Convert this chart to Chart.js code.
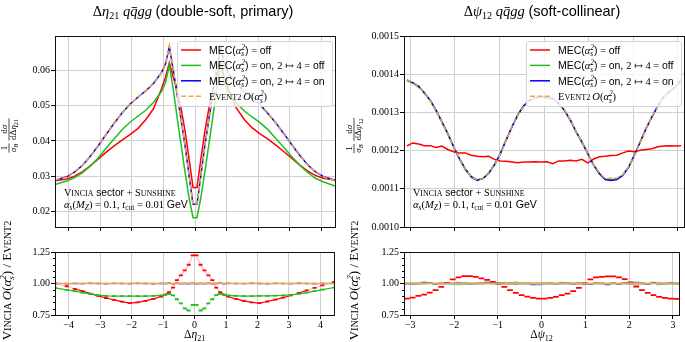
<!DOCTYPE html>
<html>
<head>
<meta charset="utf-8">
<script src="https://cdn.jsdelivr.net/npm/chart.js@4.4.0/dist/chart.umd.min.js"></script>
<style>
  html, body { margin: 0; padding: 0; background: #fff; }
  #wrap { position: relative; width: 685px; height: 342px; overflow: hidden; }
  canvas { position: absolute; }
</style>
</head>
<body>
<div id="wrap">
  <canvas id="etaTop" width="340" height="240" style="left:0;top:0"></canvas>
  <canvas id="etaRatio" width="340" height="142" style="left:0;top:200px"></canvas>
  <canvas id="psiTop" width="345" height="240" style="left:340px;top:0"></canvas>
  <canvas id="psiRatio" width="345" height="142" style="left:340px;top:200px"></canvas>
</div>
<script>
// ---- Δη21 panel (bin centres, width 0.125) ----
const etaBins = [-4.4375, -4.0625, -3.8125, -3.5625, -3.3125, -3.0625, -2.8125, -2.5625, -2.3125, -2.0625, -1.8125,
  -1.5625, -1.3125, -1.0625, -0.9375, -0.8125, -0.6875, -0.5625, -0.4375, -0.3125, -0.1875, -0.0625,
  0.0625, 0.1875, 0.3125, 0.4375, 0.5625, 0.6875, 0.8125, 0.9375, 1.0625, 1.3125, 1.5625, 1.8125,
  2.0625, 2.3125, 2.5625, 2.8125, 3.0625, 3.3125, 3.5625, 3.8125, 4.0625, 4.4375];
const etaMecOff = [0.0287, 0.0292, 0.0300, 0.0313, 0.0330, 0.0349, 0.0368, 0.0386, 0.0402, 0.0418, 0.0435,
  0.0460, 0.0492, 0.0548, 0.0580, 0.0622, 0.0580, 0.0545, 0.0490, 0.0427, 0.0348, 0.0268,
  0.0268, 0.0349, 0.0428, 0.0491, 0.0546, 0.0582, 0.0623, 0.0579, 0.0547, 0.0493, 0.0461, 0.0437,
  0.0420, 0.0405, 0.0388, 0.0370, 0.0351, 0.0332, 0.0315, 0.0302, 0.0294, 0.0289];
const etaMecOn24Off = [0.0276, 0.0286, 0.0296, 0.0310, 0.0329, 0.0352, 0.0380, 0.0406, 0.0432, 0.0453, 0.0470,
  0.0487, 0.0510, 0.0540, 0.0565, 0.0615, 0.0546, 0.0464, 0.0387, 0.0310, 0.0238, 0.0182,
  0.0182, 0.0240, 0.0312, 0.0389, 0.0466, 0.0549, 0.0616, 0.0563, 0.0537, 0.0508, 0.0485, 0.0468,
  0.0452, 0.0432, 0.0407, 0.0382, 0.0356, 0.0332, 0.0311, 0.0294, 0.0284, 0.0272];
const etaMecOn24On = [0.0288, 0.0298, 0.0312, 0.0331, 0.0357, 0.0387, 0.0419, 0.0450, 0.0479, 0.0504, 0.0524,
  0.0542, 0.0564, 0.0594, 0.0618, 0.0668, 0.0600, 0.0530, 0.0458, 0.0385, 0.0302, 0.0220,
  0.0220, 0.0303, 0.0387, 0.0460, 0.0531, 0.0602, 0.0668, 0.0617, 0.0592, 0.0563, 0.0541, 0.0522,
  0.0503, 0.0478, 0.0451, 0.0421, 0.0390, 0.0360, 0.0333, 0.0313, 0.0299, 0.0288];
const etaEvent2 = [0.0289, 0.0297, 0.0313, 0.0332, 0.0357, 0.0388, 0.0419, 0.0451, 0.0479, 0.0505, 0.0524,
  0.0543, 0.0565, 0.0593, 0.0619, 0.0670, 0.0601, 0.0529, 0.0459, 0.0386, 0.0303, 0.0219,
  0.0221, 0.0302, 0.0386, 0.0461, 0.0530, 0.0601, 0.0669, 0.0618, 0.0593, 0.0564, 0.0542, 0.0523,
  0.0504, 0.0479, 0.0450, 0.0420, 0.0389, 0.0359, 0.0332, 0.0314, 0.0298, 0.0287];
const etaRatioMecOff = [1.000, 0.978, 0.958, 0.940, 0.920, 0.902, 0.885, 0.870, 0.856, 0.845, 0.850,
  0.862, 0.878, 0.897, 0.912, 0.931, 0.968, 1.027, 1.064, 1.104, 1.149, 1.223,
  1.223, 1.149, 1.104, 1.064, 1.027, 0.968, 0.931, 0.912, 0.897, 0.878, 0.862, 0.850,
  0.845, 0.857, 0.872, 0.888, 0.905, 0.925, 0.945, 0.965, 0.985, 1.012];
const etaRatioMecOn24Off = [0.965, 0.950, 0.940, 0.928, 0.918, 0.908, 0.902, 0.900, 0.900, 0.900, 0.900,
  0.900, 0.902, 0.905, 0.910, 0.918, 0.905, 0.875, 0.843, 0.803, 0.785, 0.830,
  0.830, 0.785, 0.803, 0.843, 0.875, 0.908, 0.918, 0.910, 0.905, 0.902, 0.900, 0.900,
  0.901, 0.902, 0.903, 0.905, 0.910, 0.918, 0.928, 0.940, 0.952, 0.968];
const etaRatioMecOn24On = [1.002, 0.998, 1.001, 0.999, 1.002, 1.000, 0.998, 1.001, 1.000, 0.999, 1.002,
  1.000, 0.998, 1.001, 0.999, 1.003, 0.997, 1.002, 0.999, 1.001, 0.998, 1.002,
  0.998, 1.001, 0.999, 1.002, 0.998, 1.000, 1.003, 0.998, 1.001, 1.000, 0.999, 1.002,
  1.000, 0.998, 1.001, 1.000, 0.999, 1.002, 1.000, 0.998, 1.001, 1.002];
const etaEdges = [-4.4375, 4.4375];
const etaRatioEvent2 = [1.0, 1.0];

// ---- Δψ12 panel (48 bins over [-π, π]) ----
const psiBins = [-3.076, -2.945, -2.814, -2.683, -2.553, -2.422, -2.291, -2.160, -2.029, -1.898, -1.767, -1.636,
  -1.505, -1.374, -1.243, -1.113, -0.982, -0.851, -0.720, -0.589, -0.458, -0.327, -0.196, -0.065,
  0.065, 0.196, 0.327, 0.458, 0.589, 0.720, 0.851, 0.982, 1.113, 1.243, 1.374, 1.505,
  1.636, 1.767, 1.898, 2.029, 2.160, 2.291, 2.422, 2.553, 2.683, 2.814, 2.945, 3.076];
const psiMecOff = [0.001212, 0.001220, 0.001217, 0.001213, 0.001213, 0.001208, 0.001212, 0.001203, 0.001197, 0.001194, 0.001194, 0.001188,
  0.001185, 0.001184, 0.001185, 0.001177, 0.001173, 0.001172, 0.001170, 0.001168, 0.001170, 0.001170, 0.001171, 0.001170,
  0.001171, 0.001166, 0.001173, 0.001173, 0.001175, 0.001173, 0.001177, 0.001168, 0.001178, 0.001184, 0.001185, 0.001187,
  0.001188, 0.001194, 0.001199, 0.001197, 0.001201, 0.001203, 0.001205, 0.001210, 0.001212, 0.001213, 0.001212, 0.001213];
const psiMecOn24Off = [0.001383, 0.001377, 0.001366, 0.001352, 0.001330, 0.001304, 0.001276, 0.001243, 0.001211, 0.001178, 0.001150, 0.001133,
  0.001124, 0.001126, 0.001141, 0.001163, 0.001190, 0.001228, 0.001261, 0.001294, 0.001318, 0.001331, 0.001339, 0.001340,
  0.001338, 0.001335, 0.001324, 0.001305, 0.001281, 0.001250, 0.001221, 0.001193, 0.001163, 0.001139, 0.001125, 0.001124,
  0.001126, 0.001136, 0.001156, 0.001189, 0.001222, 0.001257, 0.001289, 0.001318, 0.001340, 0.001355, 0.001366, 0.001384];
const psiMecOn24On = [0.001385, 0.001378, 0.001369, 0.001350, 0.001332, 0.001306, 0.001275, 0.001245, 0.001210, 0.001179, 0.001153, 0.001131,
  0.001122, 0.001127, 0.001140, 0.001162, 0.001192, 0.001227, 0.001262, 0.001293, 0.001316, 0.001332, 0.001338, 0.001341,
  0.001339, 0.001336, 0.001323, 0.001306, 0.001280, 0.001249, 0.001223, 0.001192, 0.001162, 0.001140, 0.001124, 0.001122,
  0.001124, 0.001135, 0.001157, 0.001188, 0.001223, 0.001258, 0.001288, 0.001316, 0.001341, 0.001354, 0.001365, 0.001385];
const psiEvent2 = [0.001384, 0.001379, 0.001368, 0.001351, 0.001331, 0.001305, 0.001274, 0.001244, 0.001211, 0.001180, 0.001152, 0.001131,
  0.001124, 0.001126, 0.001140, 0.001161, 0.001191, 0.001226, 0.001263, 0.001292, 0.001315, 0.001331, 0.001338, 0.001340,
  0.001340, 0.001335, 0.001322, 0.001307, 0.001281, 0.001250, 0.001222, 0.001193, 0.001163, 0.001142, 0.001127, 0.001128,
  0.001128, 0.001137, 0.001158, 0.001187, 0.001222, 0.001257, 0.001289, 0.001315, 0.001340, 0.001354, 0.001366, 0.001384];
const psiRatioMecOff = [0.880, 0.888, 0.902, 0.912, 0.928, 0.947, 0.973, 1.005, 1.032, 1.048, 1.058, 1.058,
  1.053, 1.040, 1.029, 1.013, 1.000, 0.973, 0.947, 0.926, 0.907, 0.896, 0.886, 0.880,
  0.880, 0.886, 0.894, 0.907, 0.920, 0.939, 0.965, 1.000, 1.032, 1.048, 1.053, 1.056,
  1.056, 1.048, 1.035, 1.008, 0.976, 0.947, 0.926, 0.907, 0.894, 0.886, 0.880, 0.878];
const psiRatioMecOn24Off = [0.998, 1.003, 0.997, 1.000, 1.004, 0.996, 1.002, 0.998, 1.003, 0.994, 0.998, 1.003,
  1.000, 0.997, 1.002, 1.000, 1.004, 0.998, 1.002, 1.008, 0.997, 1.002, 1.000, 0.992,
  1.003, 0.998, 1.000, 1.006, 0.997, 1.002, 0.999, 1.004, 0.996, 1.000, 1.003, 0.998,
  1.002, 0.996, 1.000, 1.004, 0.997, 1.002, 0.999, 1.003, 0.993, 1.002, 0.998, 1.000];
const psiRatioMecOn24On = [1.000, 0.996, 1.002, 1.008, 1.003, 0.998, 1.000, 1.004, 0.997, 1.006, 1.002, 0.995,
  0.999, 1.004, 1.008, 1.003, 0.998, 1.002, 1.000, 0.996, 1.003, 0.999, 0.992, 1.001,
  0.998, 1.003, 0.997, 1.000, 1.004, 0.996, 1.002, 1.000, 0.997, 1.003, 0.999, 0.992,
  1.002, 0.998, 1.004, 0.997, 1.008, 1.000, 0.996, 1.006, 1.002, 0.997, 1.004, 1.000];
const psiEdges = [-Math.PI, Math.PI];
const psiRatioEvent2 = [1.0, 1.0];

// ---- ticks ----
const etaTicks = [-4, -3, -2, -1, 0, 1, 2, 3, 4];
const psiTicks = [-3, -2, -1, 0, 1, 2, 3];
const etaYTicks = [0.02, 0.03, 0.04, 0.05, 0.06];
const psiYTicks = [0.0010, 0.0011, 0.0012, 0.0013, 0.0014, 0.0015];
const ratioYTicks = [0.75, 1.00, 1.25];
const ratioMinorTicks = [0.80, 0.85, 0.90, 0.95, 1.05, 1.10, 1.15, 1.20];

const RED = '#ff0000', GREEN = '#1fbf1f', BLUE = '#0000ff', ORANGE = '#f5a53f', GRID = '#cfcfcf';
const SERIF = '"Liberation Serif", "DejaVu Serif", serif';
const SANS = '"Liberation Sans", "DejaVu Sans", sans-serif';

Chart.defaults.font.family = SERIF;
Chart.defaults.font.size = 10;
Chart.defaults.color = '#000';

// ---- small rich-text helper (sub/superscripts, small caps) ----
function fontFor(kind, size) {
  if (kind === 'it') return `italic ${size}px ${SERIF}`;
  if (kind === 'rm') return `${size}px ${SERIF}`;
  return `${size}px ${SANS}`;
}
function richWidth(ctx, runs, size) {
  let w = 0;
  for (const r of runs) {
    ctx.font = fontFor(r.f, size * (r.k || 1));
    w += ctx.measureText(r.t || '').width;
    if (r.sub || r.sup) {
      ctx.font = fontFor(r.sf || 'rm', size * 0.7);
      w += Math.max(r.sub ? ctx.measureText(r.sub).width : 0, r.sup ? ctx.measureText(r.sup).width : 0);
    }
  }
  return w;
}
function drawRich(ctx, x, y, runs, size, align) {
  let cx = align === 'center' ? x - richWidth(ctx, runs, size) / 2 : x;
  ctx.textAlign = 'left';
  ctx.textBaseline = 'alphabetic';
  for (const r of runs) {
    const s = size * (r.k || 1);
    ctx.font = fontFor(r.f, s);
    const w = r.t ? ctx.measureText(r.t).width : 0;
    if (r.t) ctx.fillText(r.t, cx, y);
    if (r.bar) ctx.fillRect(cx + w * 0.2, y - s * 0.62, w * 0.75, 0.8);
    cx += w;
    if (r.sub || r.sup) {
      ctx.font = fontFor(r.sf || 'rm', size * 0.7);
      let ws = 0;
      if (r.sup) { ctx.fillText(r.sup, cx, y - size * 0.38); ws = ctx.measureText(r.sup).width; }
      if (r.sub) { ctx.fillText(r.sub, cx, y + size * 0.22); ws = Math.max(ws, ctx.measureText(r.sub).width); }
      cx += ws;
    }
  }
}
function drawFrac(ctx, x, y, num, den, size) {
  const wn = richWidth(ctx, num, size), wd = richWidth(ctx, den, size);
  const w = Math.max(wn, wd) + 1;
  drawRich(ctx, x + (w - wn) / 2, y - size * 0.25, num, size);
  drawRich(ctx, x + (w - wd) / 2, y + size * 0.8, den, size);
  ctx.fillRect(x, y - 0.35, w, 0.7);
  return w;
}

// ---- text pieces ----
const alphaSq = { t: 'α', f: 'it', sup: '2', sub: 's', sf: 'it' };
const MEC = [{ t: 'MEC(', f: 'sf' }, alphaSq, { t: ')', f: 'sf' }, { t: ' = ', f: 'rm' }];
const legendRuns = [
  [...MEC, { t: 'off', f: 'sf' }],
  [...MEC, { t: 'on, ', f: 'sf' }, { t: '2 ↦ 4 = ', f: 'rm' }, { t: 'off', f: 'sf' }],
  [...MEC, { t: 'on, ', f: 'sf' }, { t: '2 ↦ 4 = ', f: 'rm' }, { t: 'on', f: 'sf' }],
  [{ t: 'E', f: 'rm' }, { t: 'VENT2 ', f: 'rm', k: 0.78 }, { t: 'O', f: 'it' }, { t: '(', f: 'rm' }, alphaSq, { t: ')', f: 'rm' }]
];
const noteLine1 = [{ t: 'V', f: 'rm' }, { t: 'INCIA', f: 'rm', k: 0.78 }, { t: ' sector ', f: 'sf' }, { t: '+ ', f: 'rm' },
  { t: 'S', f: 'rm' }, { t: 'UNSHINE', f: 'rm', k: 0.78 }];
const noteLine2 = [{ t: 'α', f: 'it', sub: 's', sf: 'it' }, { t: '(', f: 'rm' }, { t: 'M', f: 'it', sub: 'Z', sf: 'it' },
  { t: ') = 0.1, ', f: 'rm' }, { t: 't', f: 'it', sub: 'cut', sf: 'rm' }, { t: ' = 0.01 ', f: 'rm' }, { t: 'GeV', f: 'sf' }];
const qqgg = [{ t: ' q', f: 'it' }, { t: 'q', f: 'it', bar: true }, { t: 'gg ', f: 'it' }];
const etaTitle = [{ t: 'Δ', f: 'rm' }, { t: 'η', f: 'it', sub: '21', sf: 'rm' }, ...qqgg, { t: '(double-soft, primary)', f: 'sf' }];
const psiTitle = [{ t: 'Δ', f: 'rm' }, { t: 'ψ', f: 'it', sub: '12', sf: 'rm' }, ...qqgg, { t: '(soft-collinear)', f: 'sf' }];
const etaXLabel = [{ t: 'Δ', f: 'rm' }, { t: 'η', f: 'it', sub: '21', sf: 'rm' }];
const psiXLabel = [{ t: 'Δ', f: 'rm' }, { t: 'ψ', f: 'it', sub: '12', sf: 'rm' }];
const ratioYLabel = [{ t: 'V', f: 'rm' }, { t: 'INCIA ', f: 'rm', k: 0.78 }, { t: 'O', f: 'it' }, { t: '(', f: 'rm' }, alphaSq,
  { t: ') / ', f: 'rm' }, { t: 'E', f: 'rm' }, { t: 'VENT2', f: 'rm', k: 0.78 }];
const one = [{ t: '1', f: 'rm' }];
const sigmaB = [{ t: 'σ', f: 'it', sub: 'B', sf: 'it' }];
const dSigma = [{ t: 'd', f: 'rm' }, { t: 'σ', f: 'it' }];
const etaDen = [{ t: 'dΔ', f: 'rm' }, { t: 'η', f: 'it', sub: '21', sf: 'rm' }];
const psiDen = [{ t: 'dΔ', f: 'rm' }, { t: 'ψ', f: 'it', sub: '12', sf: 'rm' }];

const pts = (xs, ys) => xs.map((x, i) => ({ x, y: ys[i] }));
const minus = v => String(v).replace('-', '\u2212');

function curve(label, xs, ys, color, order, dash) {
  return { label, data: pts(xs, ys), borderColor: color, backgroundColor: color, borderWidth: 1.5,
    pointRadius: 0, borderDash: dash || [], order, tension: 0 };
}
function ratioMarks(label, xs, ys, color, faint, order, half, connect) {
  return { label, data: pts(xs, ys), borderColor: color, backgroundColor: color, borderWidth: 1.2,
    showLine: connect, pointStyle: 'line', pointRadius: half, pointBorderColor: color, pointBorderWidth: 1.8,
    order, tension: 0,
    segment: { borderColor: c => Math.abs(c.p1.parsed.y - c.p0.parsed.y) > 0.02 ? faint : undefined } };
}

function xAxis(min, max, ticks, labels, height) {
  return {
    type: 'linear', min, max,
    afterBuildTicks: s => { s.ticks = ticks.map(v => ({ value: v })); },
    afterFit: s => { s.height = height; },
    grid: { color: GRID, lineWidth: 1, tickLength: 4, tickColor: '#000' },
    border: { display: false },
    ticks: { display: labels, padding: 0, maxRotation: 0, autoSkip: false, callback: v => minus(v) }
  };
}
function yAxis(min, max, ticks, digits, width) {
  return {
    min, max,
    afterBuildTicks: s => { s.ticks = ticks.map(v => ({ value: v })); },
    afterFit: s => { s.width = width; },
    grid: { color: GRID, lineWidth: 1, tickLength: 4, tickColor: '#000' },
    border: { display: false },
    ticks: { padding: 1, autoSkip: false, callback: v => v.toFixed(digits) }
  };
}

function frame(ctx, a) {
  ctx.strokeStyle = '#111';
  ctx.lineWidth = 1;
  ctx.setLineDash([]);
  ctx.strokeRect(Math.round(a.left) + 0.5, Math.round(a.top) + 0.5,
    Math.round(a.right - a.left), Math.round(a.bottom - a.top));
}

function drawLegend(ctx, chart, x, y) {
  ctx.save();
  ctx.beginPath();
  ctx.roundRect(x + 0.5, y + 0.5, 155, 65, 2.5);
  ctx.fillStyle = 'rgba(255,255,255,0.8)';
  ctx.fill();
  ctx.strokeStyle = '#d4d4d4';
  ctx.lineWidth = 1;
  ctx.stroke();
  chart.data.datasets.forEach((ds, i) => {
    const ly = y + 9 + i * 15.4;
    ctx.strokeStyle = ds.borderColor;
    ctx.lineWidth = 1.5;
    ctx.setLineDash(ds.borderDash || []);
    ctx.beginPath();
    ctx.moveTo(x + 4, ly);
    ctx.lineTo(x + 24, ly);
    ctx.stroke();
    ctx.setLineDash([]);
    ctx.fillStyle = '#000';
    drawRich(ctx, x + 32, ly + 4, legendRuns[i], 10.5);
  });
  ctx.restore();
}

function topDecor(title, den, yLabelX) {
  return {
    id: 'topDecor',
    afterDraw(chart) {
      const { ctx, chartArea: a } = chart;
      ctx.save();
      ctx.fillStyle = '#000';
      drawRich(ctx, (a.left + a.right) / 2 - 2, 16, title, 14.5, 'center');
      frame(ctx, a);
      drawLegend(ctx, chart, a.right - 158, a.top + 5);
      ctx.fillStyle = '#000';
      drawRich(ctx, a.left + 9, a.bottom - 31, noteLine1, 10.2);
      drawRich(ctx, a.left + 9, a.bottom - 19, noteLine2, 10.6);
      ctx.translate(yLabelX, (a.top + a.bottom) / 2 + 4);
      ctx.rotate(-Math.PI / 2);
      const size = 9;
      const w1 = Math.max(richWidth(ctx, one, size), richWidth(ctx, sigmaB, size)) + 1;
      const w2 = Math.max(richWidth(ctx, dSigma, size), richWidth(ctx, den, size)) + 1;
      const x0 = -(w1 + w2 + 3) / 2;
      drawFrac(ctx, x0, 0, one, sigmaB, size);
      drawFrac(ctx, x0 + w1 + 3, 0, dSigma, den, size);
      ctx.restore();
    }
  };
}

function ratioDecor(xLabel, yLabelX) {
  return {
    id: 'ratioDecor',
    afterDraw(chart) {
      const { ctx, chartArea: a } = chart;
      const y = chart.scales.y;
      ctx.save();
      frame(ctx, a);
      ctx.fillStyle = '#000';
      ratioMinorTicks.forEach(v => {
        const py = Math.round(y.getPixelForValue(v));
        ctx.fillRect(a.left - 2, py, 2, 1);
      });
      drawRich(ctx, (a.left + a.right) / 2, a.bottom + 23, xLabel, 11.5, 'center');
      ctx.translate(yLabelX, (a.top + a.bottom) / 2 - 3);
      ctx.rotate(-Math.PI / 2);
      drawRich(ctx, 0, 4, ratioYLabel, 13, 'center');
      ctx.restore();
    }
  };
}

const common = {
  responsive: false, animation: false, devicePixelRatio: 1, events: [],
  plugins: { legend: { display: false }, tooltip: { enabled: false }, title: { display: false } }
};

new Chart(document.getElementById('etaTop'), {
  type: 'line',
  data: { datasets: [
    curve('MEC off', etaBins, etaMecOff, RED, 3),
    curve('MEC on, 2→4 off', etaBins, etaMecOn24Off, GREEN, 2),
    curve('MEC on, 2→4 on', etaBins, etaMecOn24On, BLUE, 1),
    curve('EVENT2', etaBins, etaEvent2, ORANGE, 0, [5, 2.5])
  ] },
  options: { ...common,
    layout: { padding: { top: 36, right: 5, left: 0, bottom: 0 } },
    scales: { x: xAxis(-4.4375, 4.4375, etaTicks, false, 13), y: yAxis(0.01555, 0.0698, etaYTicks, 2, 55) } },
  plugins: [topDecor(etaTitle, etaDen, 9)]
});

new Chart(document.getElementById('etaRatio'), {
  type: 'line',
  data: { datasets: [
    ratioMarks('MEC off', etaBins, etaRatioMecOff, RED, 'rgba(255,0,0,0.25)', 3, 2, true),
    ratioMarks('MEC on, 2→4 off', etaBins, etaRatioMecOn24Off, GREEN, 'rgba(31,191,31,0.25)', 2, 2, true),
    ratioMarks('MEC on, 2→4 on', etaBins, etaRatioMecOn24On, 'rgba(60,60,255,0.6)', 'rgba(60,60,255,0.2)', 1, 2, true),
    { label: 'EVENT2', data: pts(etaEdges, etaRatioEvent2), borderColor: ORANGE, borderWidth: 1.5, pointRadius: 0, order: 0 }
  ] },
  options: { ...common,
    layout: { padding: { top: 52, right: 5, left: 0, bottom: 0 } },
    scales: { x: xAxis(-4.4375, 4.4375, etaTicks, true, 27), y: yAxis(0.75, 1.25, ratioYTicks, 2, 55) } },
  plugins: [ratioDecor(etaXLabel, 7)]
});

new Chart(document.getElementById('psiTop'), {
  type: 'line',
  data: { datasets: [
    curve('MEC off', psiBins, psiMecOff, RED, 3),
    curve('MEC on, 2→4 off', psiBins, psiMecOn24Off, GREEN, 2),
    curve('MEC on, 2→4 on', psiBins, psiMecOn24On, BLUE, 1),
    curve('EVENT2', psiBins, psiEvent2, ORANGE, 0, [5, 2.5])
  ] },
  options: { ...common,
    layout: { padding: { top: 36, right: 1, left: 0, bottom: 0 } },
    scales: { x: xAxis(-Math.PI, Math.PI, psiTicks, false, 13), y: yAxis(0.0010, 0.0015, psiYTicks, 4, 64) } },
  plugins: [topDecor(psiTitle, psiDen, 14)]
});

new Chart(document.getElementById('psiRatio'), {
  type: 'line',
  data: { datasets: [
    ratioMarks('MEC off', psiBins, psiRatioMecOff, RED, RED, 3, 2.9, false),
    ratioMarks('MEC on, 2→4 off', psiBins, psiRatioMecOn24Off, 'rgba(31,191,31,0.6)', 'rgba(31,191,31,0.6)', 2, 2.9, false),
    ratioMarks('MEC on, 2→4 on', psiBins, psiRatioMecOn24On, 'rgba(60,60,255,0.6)', 'rgba(60,60,255,0.6)', 1, 2.9, false),
    { label: 'EVENT2', data: pts(psiEdges, psiRatioEvent2), borderColor: ORANGE, borderWidth: 1.5, pointRadius: 0, order: 0 }
  ] },
  options: { ...common,
    layout: { padding: { top: 52, right: 1, left: 0, bottom: 0 } },
    scales: { x: xAxis(-Math.PI, Math.PI, psiTicks, true, 27), y: yAxis(0.75, 1.25, ratioYTicks, 2, 64) } },
  plugins: [ratioDecor(psiXLabel, 13.5)]
});
</script>
</body>
</html>
